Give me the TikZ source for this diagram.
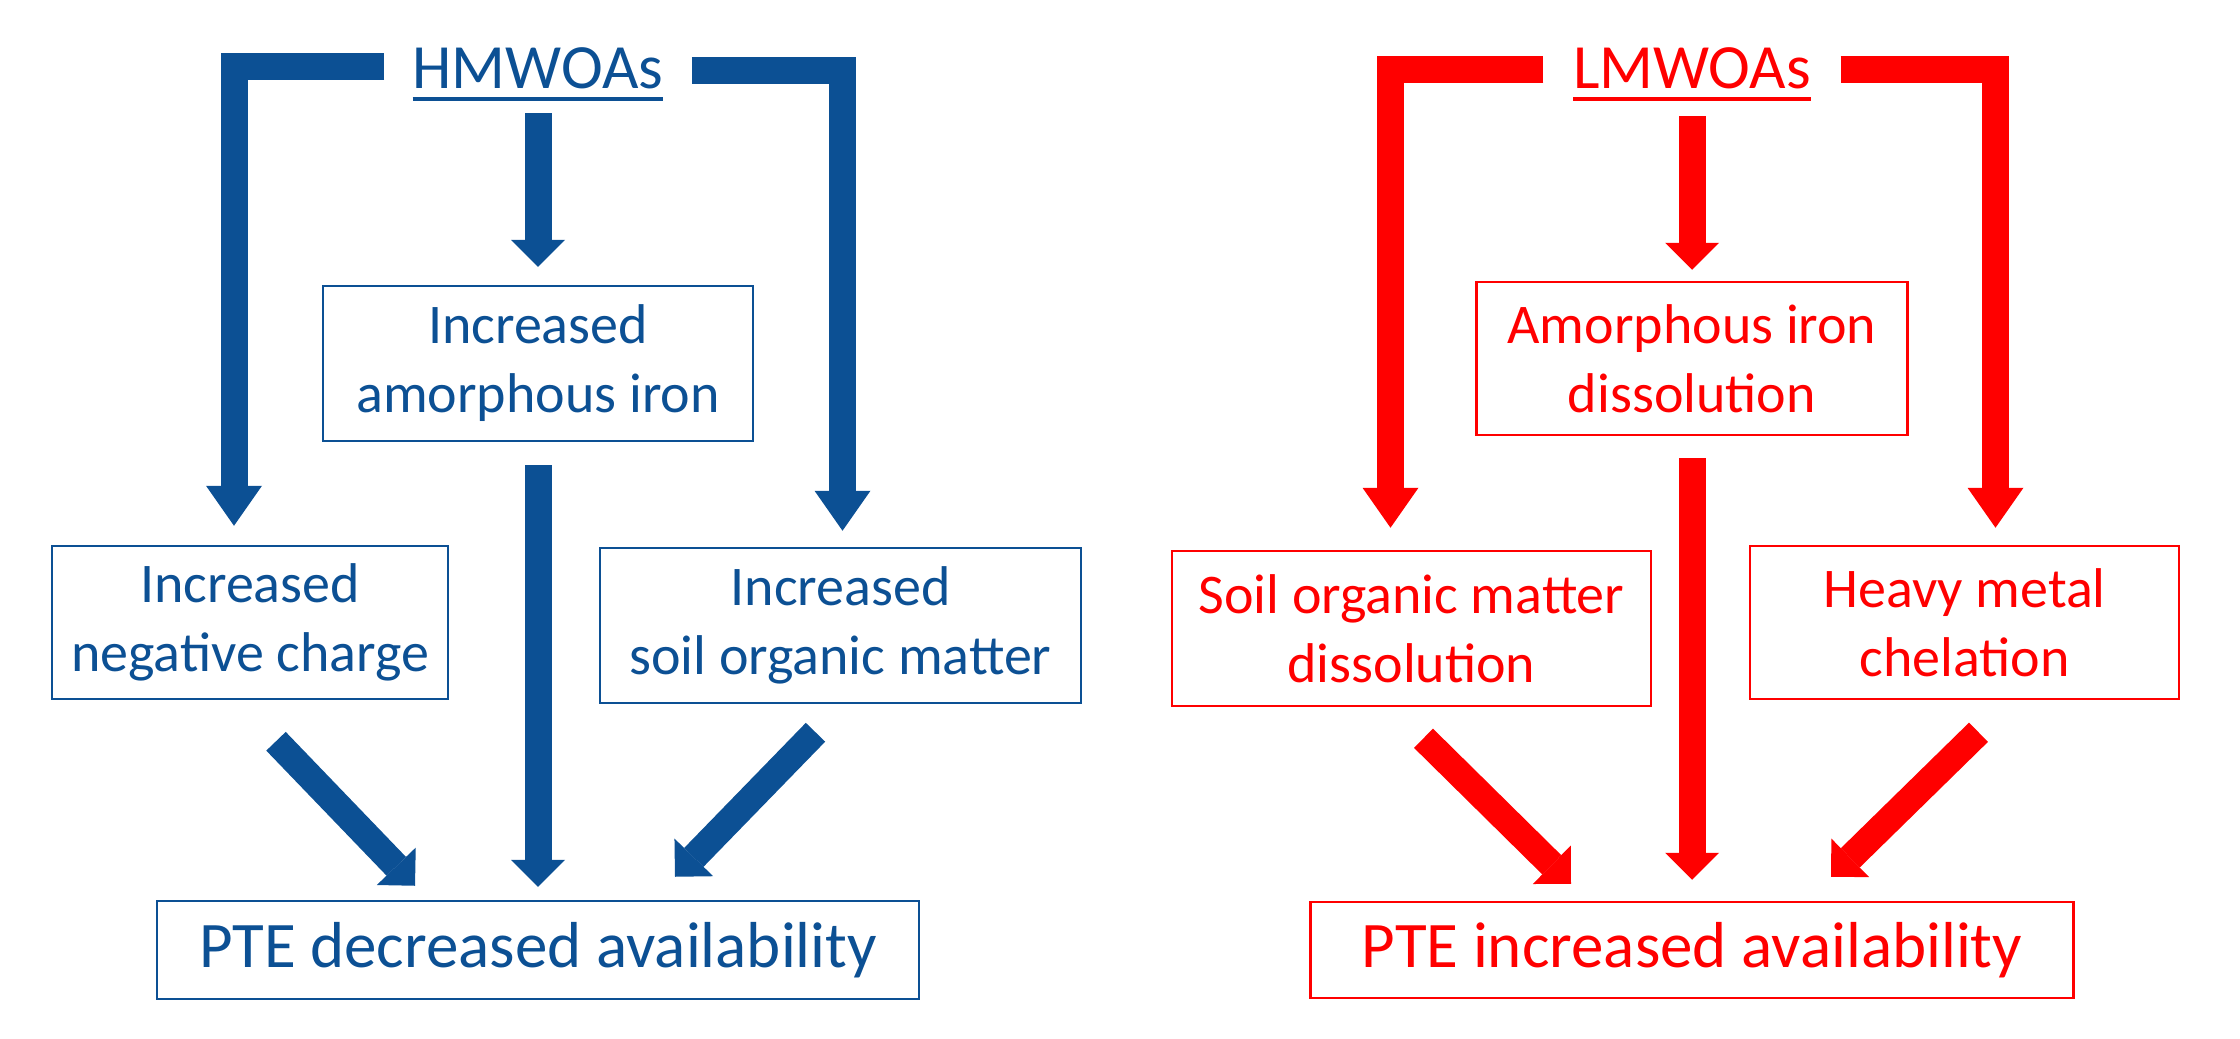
\documentclass[tikz,border=0pt]{standalone}
\usepackage{fontspec}
\setmainfont{Carlito}
\usetikzlibrary{arrows.meta,calc}

\definecolor{hmblue}{RGB}{12,80,148}
\definecolor{lmred}{RGB}{255,0,0}
\newcommand{\uword}[1]{\setbox0\hbox{#1}\rlap{\copy0}\rule[-3.75pt]{\wd0}{1.05pt}}

\begin{document}
\begin{tikzpicture}[x=0.3pt,y=-0.3pt,
    box/.style={draw, line width=0.75pt, fill=white, align=center, inner sep=0pt,
      font=\fontsize{16.8}{20.7}\selectfont},
    hmbox/.style={box, draw=hmblue, text=hmblue},
    lmbox/.style={box, draw=lmred, text=lmred},
    title/.style={anchor=base, inner sep=0pt, font=\fontsize{18.9}{22}\selectfont},
    big/.style={font=\fontsize{19.5}{23}\selectfont},
    fat/.style={line width=8.1pt, -{Triangle[length=8.1pt,width=16.2pt,line width=0pt]}},
    side/.style={line width=8.1pt, -{Triangle[length=12pt,width=16.8pt,line width=0pt]}}]
		\useasboundingbox (0,0) rectangle (2240,1039);

		% HMWOAs
		\node[title, text=hmblue] (hm) at (538, 88) {\uword{HMWOAs}};
		\node[hmbox, minimum width=129pt, minimum height=46.5pt] (iron) at (538, 363.5) {Increased\\amorphous iron};
		\node[hmbox, minimum width=118.8pt, minimum height=45.9pt] (neg) at (250, 622.5) {Increased\\negative charge};
		\node[hmbox, minimum width=144.3pt, minimum height=46.5pt] (som) at (840.5, 625.5) {Increased\\soil organic matter};
		\node[hmbox, big, minimum width=228.6pt, minimum height=29.4pt] (dec) at (538, 950) {PTE decreased availability};

		\draw [fat, hmblue] ($(hm.base)+(0,25)$) -- ($(iron.north)+(0,-18)$);
		\draw [fat, hmblue] ($(iron.south)+(0,23)$) -- ($(dec.north)+(0,-13)$);
		\draw [side, hmblue] ($(hm.base west)+(-28,-22)$) -| ($(neg.north)+(-16,-19)$);
		\draw [side, hmblue] ($(hm.base east)+(28,-18)$) -| ($(som.north)+(2,-16)$);
		\draw [fat, hmblue] ($(neg.south)+(26,41)$) -- ($(dec.north)+(-123,-14)$);
		\draw [fat, hmblue] ($(som.south)+(-25,28)$) -- ($(dec.north)+(137,-23)$);

		% LMWOAs
		\node[title, text=lmred] (lm) at (1692, 88) {\uword{LMWOAs}};
		\node[lmbox, minimum width=129.3pt, minimum height=45.9pt] (fe) at (1692, 358.5) {Amorphous iron\\dissolution};
		\node[lmbox, minimum width=143.7pt, minimum height=46.5pt] (sd) at (1411.5, 628.5) {Soil organic matter\\dissolution};
		\node[lmbox, minimum width=128.7pt, minimum height=45.9pt] (chel) at (1964.5, 622.5) {Heavy metal\\chelation};
		\node[lmbox, big, minimum width=228.9pt, minimum height=28.8pt] (inc) at (1692, 950) {PTE increased availability};

		\draw [fat, lmred] ($(lm.base)+(0,28)$) -- ($(fe.north)+(0,-11)$);
		\draw [fat, lmred] ($(fe.south)+(0,22)$) -- ($(inc.north)+(0,-21)$);
		\draw [side, lmred] ($(lm.base west)+(-29,-19)$) -| ($(sd.north)+(-21,-22)$);
		\draw [side, lmred] ($(lm.base east)+(29,-19)$) -| ($(chel.north)+(31,-17)$);
		\draw [fat, lmred] ($(sd.south)+(12,31)$) -- ($(inc.north)+(-121,-17)$);
		\draw [fat, lmred] ($(chel.south)+(14,32)$) -- ($(inc.north)+(139,-24)$);
\end{tikzpicture}
\end{document}
